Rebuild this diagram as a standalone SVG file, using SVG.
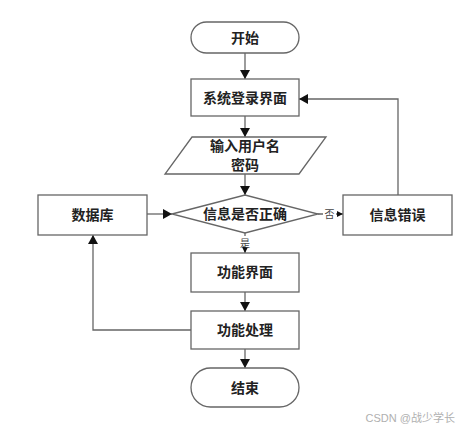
<svg xmlns="http://www.w3.org/2000/svg" width="474" height="433" viewBox="0 0 474 433">
<style>
.s{fill:#fff;stroke:#666;stroke-width:1.3}
.t{font-family:"Noto Sans CJK SC","Noto Sans CJK TC",sans-serif;font-size:14px;font-weight:bold;fill:#222;text-anchor:middle}
.l{font-family:"Noto Sans CJK SC",sans-serif;font-size:10px;fill:#444;text-anchor:middle}
.c{fill:none;stroke:#666;stroke-width:1.3}
</style>
<defs>
<marker id="a" markerWidth="10" markerHeight="10" refX="9" refY="5" orient="auto" markerUnits="userSpaceOnUse"><path d="M0,0 L9,5 L0,10 Z" fill="#111"/></marker>
<marker id="b" markerWidth="6" markerHeight="6" refX="6" refY="3" orient="auto" markerUnits="userSpaceOnUse"><path d="M0,0 L6,3 L0,6 Z" fill="#111"/></marker>
</defs>
<rect width="474" height="433" fill="#fff"/>
<g id="connectors">
<path class="c" d="M245,53 V79" marker-end="url(#a)"/>
<path class="c" d="M245,116 V137" marker-end="url(#a)"/>
<path class="c" d="M245,174 V195" marker-end="url(#a)"/>
<path class="c" d="M245,233 V236 M245,249 V253" marker-end="url(#b)"/>
<path class="c" d="M245,292 V311" marker-end="url(#a)"/>
<path class="c" d="M245,349 V368" marker-end="url(#a)"/>
<path class="c" d="M147,214 H172" marker-end="url(#a)"/>
<path class="c" d="M318,214 H323 M336,214 H343" marker-end="url(#b)"/>
<path class="c" d="M398,195 V99 H299" marker-end="url(#a)"/>
<path class="c" d="M191,330 H93 V235" marker-end="url(#a)"/>
<text class="l" x="329.5" y="218">否</text>
<text class="l" x="245" y="246.5">是</text>
</g>
<g id="start"><rect class="s" x="191" y="22" width="108" height="31" rx="15.5"/><text class="t" x="245" y="42.5">开始</text></g>
<g id="login"><rect class="s" x="191" y="79" width="108" height="37"/><text class="t" x="245" y="102.5">系统登录界面</text></g>
<g id="input"><polygon class="s" points="192,137 326,137 299,174 165,174"/><text class="t" x="245" y="151">输入用户名</text><text class="t" x="245" y="170">密码</text></g>
<g id="check"><polygon class="s" points="172,214 245,195 318,214 245,233"/><text class="t" x="245" y="219">信息是否正确</text></g>
<g id="db"><rect class="s" x="38" y="195" width="109" height="40"/><text class="t" x="92.5" y="219.5">数据库</text></g>
<g id="err"><rect class="s" x="343" y="195" width="109" height="40"/><text class="t" x="397.5" y="219.5">信息错误</text></g>
<g id="func"><rect class="s" x="191" y="253" width="108" height="39"/><text class="t" x="245" y="277">功能界面</text></g>
<g id="proc"><rect class="s" x="191" y="311" width="108" height="38"/><text class="t" x="245" y="335">功能处理</text></g>
<g id="end"><rect class="s" x="191" y="368" width="108" height="39" rx="19.5"/><text class="t" x="245" y="392.5">结束</text></g>
<text x="455" y="422" font-family="'Liberation Sans','Noto Sans CJK SC',sans-serif" font-size="11" fill="#b0b0b0" text-anchor="end">CSDN @战少学长</text>
</svg>
